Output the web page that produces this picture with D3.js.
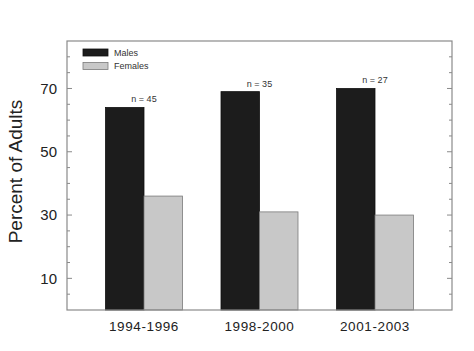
<!DOCTYPE html>
<html>
<head>
<meta charset="utf-8">
<script src="https://cdn.jsdelivr.net/npm/d3@7/dist/d3.min.js"></script>
<style>
  body { margin: 0; background: #fff; }
  text { font-family: "Liberation Sans", Arial, sans-serif; }
</style>
</head>
<body>
<div id="chart"></div>
<script>
// Percent of adults by sex, three periods
const periods = ["1994-1996", "1998-2000", "2001-2003"];
const males = [64, 69, 70];
const females = [36, 31, 30];
const sampleSizes = ["n = 45", "n = 35", "n = 27"];
const seriesNames = ["Males", "Females"];
const yTickLabels = [10, 30, 50, 70];

const W = 474, H = 351;
const margin = { top: 41, right: 22, bottom: 41, left: 67 };
const width = W - margin.left - margin.right;
const height = H - margin.top - margin.bottom;

const colors = { Males: "#1c1c1c", Females: "#c8c8c8" };
const frameColor = "#8a8a8a";

const svg = d3.select("#chart").append("svg")
  .attr("width", W)
  .attr("height", H);

const g = svg.append("g")
  .attr("transform", `translate(${margin.left},${margin.top})`);

const x = d3.scaleBand()
  .domain(periods)
  .range([0, width])
  .paddingInner(1 / 3)
  .paddingOuter(1 / 3);

const xSeries = d3.scaleBand()
  .domain(seriesNames)
  .range([0, x.bandwidth()]);

const y = d3.scaleLinear()
  .domain([0, 85])
  .range([height, 0]);

// bars
const rows = periods.map((p, i) => ({ period: p, Males: males[i], Females: females[i], n: sampleSizes[i] }));

const groups = g.selectAll(".grp")
  .data(rows)
  .enter().append("g")
  .attr("class", "grp")
  .attr("transform", d => `translate(${x(d.period)},0)`);

groups.selectAll("rect")
  .data(d => seriesNames.map(s => ({ key: s, value: d[s] })))
  .enter().append("rect")
  .attr("x", d => xSeries(d.key))
  .attr("y", d => y(d.value))
  .attr("width", xSeries.bandwidth())
  .attr("height", d => height - y(d.value))
  .attr("fill", d => colors[d.key])
  .attr("stroke", d => d.key === "Males" ? "#111" : "#7a7a7a")
  .attr("stroke-width", 0.8);

// sample size labels above male bars
groups.append("text")
  .attr("x", x.bandwidth() / 2)
  .attr("y", d => y(d.Males) - 5)
  .attr("text-anchor", "middle")
  .style("font-size", "9px")
  .style("fill", "#333")
  .text(d => d.n);

// frame
g.append("rect")
  .attr("x", 0).attr("y", 0)
  .attr("width", width).attr("height", height)
  .attr("fill", "none")
  .attr("stroke", frameColor)
  .attr("stroke-width", 1.2);

// ticks every 5, majors at labelled values, inward on both sides
const allTicks = d3.range(5, 85, 5);
[0, width].forEach((xx, side) => {
  const dir = side === 0 ? 1 : -1;
  g.selectAll(null)
    .data(allTicks)
    .enter().append("line")
    .attr("x1", xx)
    .attr("x2", d => xx + dir * (yTickLabels.includes(d) ? 5 : 3))
    .attr("y1", d => y(d))
    .attr("y2", d => y(d))
    .attr("stroke", frameColor)
    .attr("stroke-width", 1);
});

// y tick labels
g.selectAll(".ylab")
  .data(yTickLabels)
  .enter().append("text")
  .attr("class", "ylab")
  .attr("x", -10)
  .attr("y", d => y(d))
  .attr("dy", "0.36em")
  .attr("text-anchor", "end")
  .style("font-size", "15px")
  .style("fill", "#222")
  .text(d => d);

// x labels
g.selectAll(".xlab")
  .data(periods)
  .enter().append("text")
  .attr("class", "xlab")
  .attr("x", d => x(d) + x.bandwidth() / 2)
  .attr("y", height + 21)
  .attr("text-anchor", "middle")
  .style("font-size", "13.5px")
  .style("letter-spacing", "0.6px")
  .style("fill", "#222")
  .text(d => d);

// y axis title
svg.append("text")
  .attr("transform", `translate(22,${margin.top + height / 2 - 4}) rotate(-90)`)
  .attr("text-anchor", "middle")
  .style("font-size", "19px")
  .style("fill", "#222")
  .text("Percent of Adults");

// legend
const legend = g.append("g").attr("transform", "translate(16,8)");
seriesNames.forEach((s, i) => {
  const row = legend.append("g").attr("transform", `translate(0,${i * 13.5})`);
  row.append("rect")
    .attr("width", 25).attr("height", 7)
    .attr("fill", colors[s])
    .attr("stroke", s === "Males" ? "#111" : "#7a7a7a")
    .attr("stroke-width", 0.8);
  row.append("text")
    .attr("x", 31).attr("y", 3.5).attr("dy", "0.35em")
    .style("font-size", "9px")
    .style("fill", "#333")
    .text(s);
});
</script>
</body>
</html>
